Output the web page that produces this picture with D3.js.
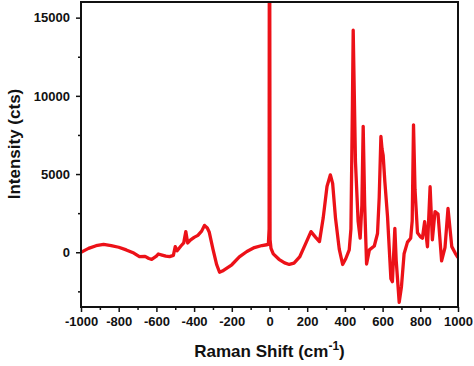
<!DOCTYPE html>
<html>
<head>
<meta charset="utf-8">
<script src="https://cdn.jsdelivr.net/npm/d3@7"></script>
<style>
  body { margin: 0; background: #fff; }
  text { font-family: "Liberation Sans", Arial, sans-serif; font-weight: bold; fill: #111; }
</style>
</head>
<body>
<div id="chart"></div>
<script>
//spectrum
const ramanShift = [-1000, -960, -920, -880, -840, -800, -760, -720, -690, -660, -640, -625, -600, -590, -570, -550, -530, -510,
  -500, -490, -470, -455, -444, -434, -420, -400, -380, -360, -345, -330, -320, -300, -280, -265, -250, -200, -160, -120,
  -80, -40, -15, -6, -2, -1, 1, 3, 8, 20, 50, 80, 105, 130, 160, 190, 220, 245, 265, 285, 305, 323, 335, 350, 370, 388,
  405, 423, 432, 440, 444, 450, 456, 470, 481, 490, 497, 505, 515, 530, 556, 573, 582, 591, 597, 603, 612, 626, 644, 652,
  665, 672, 688, 700, 714, 732, 749, 757, 764, 772, 785, 800, 811, 823, 838, 852, 864, 878, 894, 913, 931, 947, 967, 985, 1000];
const intensity = [0, 250, 420, 500, 430, 320, 150, -50, -280, -260, -400, -450, -250, -110, -180, -250, -280, -200,
  360, 100, 400, 600, 1320, 590, 780, 950, 1080, 1350, 1720, 1550, 1300, 200, -800, -1280, -1200, -800, -300, 50,
  300, 430, 480, 500, 1500, 20000, 20000, 800, 250, -100, -450, -680, -780, -700, -300, 500, 1320, 950, 680, 2200, 4200, 4950, 4400, 2200, 200, -780,
  -400, 150, 1500, 9500, 14200, 10000, 5800, 2000, 900, 3000, 8050, 3000, -750, 150, 400, 1200, 3500, 7400, 6600, 6200, 4500, 2300, -1700, -1880,
  1530, -500, -3200, -2200, -100, 650, 900, 2000, 8150, 4000, 1250, 1000, 900, 1950, 350, 4190, 800, 2600, 2450, -550, 300, 2800, 360, -50, -350];

const xTicks = [-1000, -800, -600, -400, -200, 0, 200, 400, 600, 800, 1000];
const yTicks = [0, 5000, 10000, 15000];

const width = 474,
    height = 366,
    margin = {top: 2, right: 16, bottom: 59, left: 81};

const data = ramanShift.map((s, i) => ({s: s, v: intensity[i]}));

//plain hyphen for negatives, like the original
const fmt = d => String(d);

let svg = d3.select("#chart").append("svg")
    .attr("width", width)
    .attr("height", height);

const x = d3.scaleLinear().domain([-1000, 1000]).range([margin.left, width - margin.right]);
const y = d3.scaleLinear().domain([-3500, 16000]).range([height - margin.bottom, margin.top]);

svg.append("clipPath").attr("id", "clip")
  .append("rect")
    .attr("x", margin.left)
    .attr("y", margin.top)
    .attr("width", width - margin.right - margin.left)
    .attr("height", height - margin.bottom - margin.top);

let line = d3.line()
    .x(d => x(d.s))
    .y(d => y(d.v));

svg.append("path")
    .datum(data)
    .attr("clip-path", "url(#clip)")
    .attr("fill", "none")
    .attr("stroke", "#ec1118")
    .attr("stroke-width", 3.3)
    .attr("stroke-linejoin", "round")
    .attr("d", line);

//minor ticks first, then major ticks with labels
svg.append("g")
    .attr("transform", "translate(0," + (height - margin.bottom) + ")")
    .call(d3.axisBottom(x).tickValues(d3.range(-900, 1000, 200)).tickSize(3).tickFormat(""))
    .call(g => g.select(".domain").remove())
    .selectAll("line").attr("stroke", "#111").attr("stroke-width", 1.5);

svg.append("g")
    .attr("transform", "translate(0," + (height - margin.bottom) + ")")
    .call(d3.axisBottom(x).tickValues(xTicks).tickSize(5).tickPadding(5).tickFormat(fmt))
    .call(g => g.select(".domain").remove())
    .call(g => g.selectAll("line").attr("stroke", "#111").attr("stroke-width", 1.5))
    .selectAll("text").style("font-size", "13px");

svg.append("g")
    .attr("transform", "translate(" + margin.left + ",0)")
    .call(d3.axisLeft(y).tickValues([-2500, 2500, 7500, 12500]).tickSize(3).tickFormat(""))
    .call(g => g.select(".domain").remove())
    .selectAll("line").attr("stroke", "#111").attr("stroke-width", 1.5);

svg.append("g")
    .attr("transform", "translate(" + margin.left + ",0)")
    .call(d3.axisLeft(y).tickValues(yTicks).tickSize(5).tickPadding(6).tickFormat(fmt))
    .call(g => g.select(".domain").remove())
    .call(g => g.selectAll("line").attr("stroke", "#111").attr("stroke-width", 1.5))
    .selectAll("text").style("font-size", "13px");

//frame around plot
svg.append("rect")
    .attr("x", margin.left)
    .attr("y", margin.top)
    .attr("width", width - margin.right - margin.left)
    .attr("height", height - margin.bottom - margin.top)
    .attr("fill", "none")
    .attr("stroke", "#111")
    .attr("stroke-width", 2);

let xt = svg.append("text")
    .attr("x", (margin.left + width - margin.right) / 2)
    .attr("y", 357)
    .attr("text-anchor", "middle")
    .style("font-size", "17px");
xt.append("tspan").text("Raman Shift (cm");
xt.append("tspan").attr("dy", -7).style("font-size", "12px").text("-1");
xt.append("tspan").attr("dy", 7).text(")");

svg.append("text")
    .attr("transform", "translate(20,144) rotate(-90)")
    .attr("text-anchor", "middle")
    .style("font-size", "17px")
    .text("Intensity (cts)");
</script>
</body>
</html>
